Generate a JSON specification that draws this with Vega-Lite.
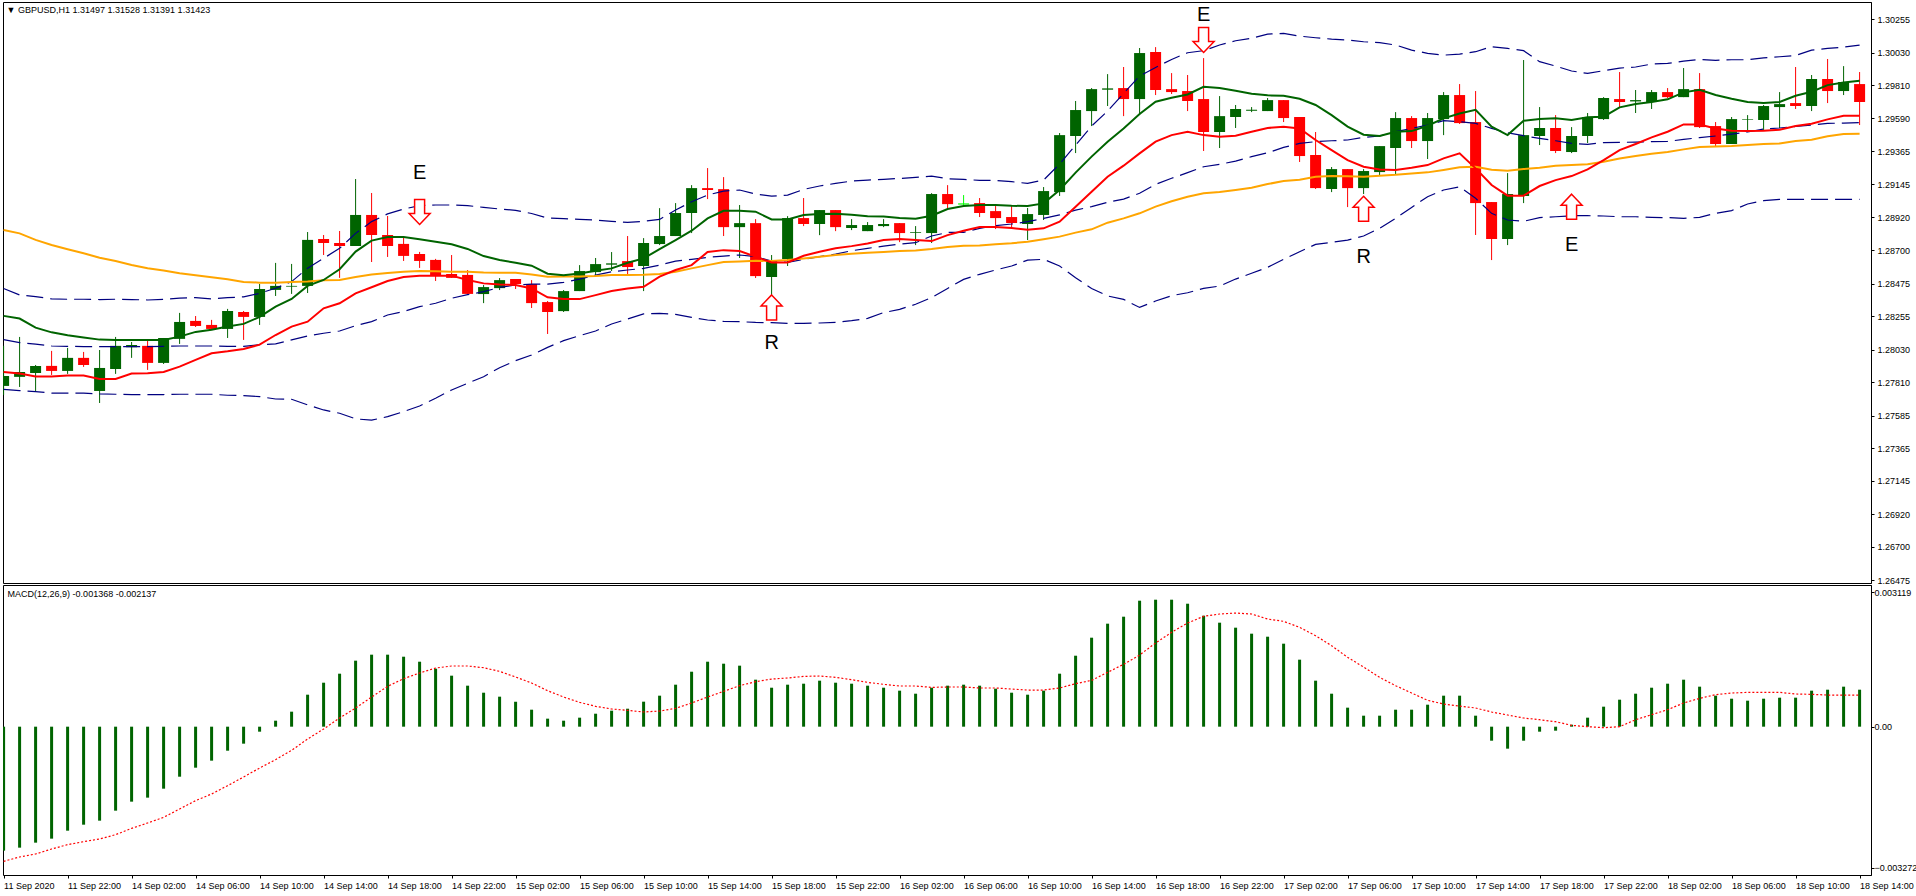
{
"$schema":"https://vega.github.io/schema/vega-lite/v6.json",
"background":"white",
"padding":{"left":0,"top":1,"right":0,"bottom":0},
"spacing":2,
"bounds":"flush",
"config":{"view":{"stroke":"#000000","strokeWidth":1},"font":"Liberation Sans","axis":{"labelFont":"Liberation Sans","labelFontSize":9,"labelColor":"#000000","domainColor":"#000000","tickColor":"#000000","tickSize":3,"labelPadding":3,"grid":false,"title":null,"labelOverlap":false,"labelBound":false}},
"datasets":{
"bars":[
{"t":"11 Sep 18:00","o":1.27785,"h":1.28055,"l":1.27724,"c":1.27852,"d":"up","g":1.28257,"r":1.27879,"a":1.28836,"u":1.28441,"m":1.28097,"b":1.27762,"macd":-0.002876,"sig":-0.003123},
{"t":"11 Sep 19:00","o":1.27846,"h":1.28115,"l":1.27778,"c":1.27879,"d":"up","g":1.28239,"r":1.27868,"a":1.28813,"u":1.28398,"m":1.28077,"b":1.27753,"macd":-0.002806,"sig":-0.003022},
{"t":"11 Sep 20:00","o":1.27872,"h":1.27926,"l":1.27747,"c":1.2792,"d":"up","g":1.28178,"r":1.27848,"a":1.28769,"u":1.28387,"m":1.28066,"b":1.27747,"macd":-0.00269,"sig":-0.002953},
{"t":"11 Sep 21:00","o":1.2792,"h":1.28021,"l":1.27859,"c":1.27886,"d":"down","g":1.28146,"r":1.27848,"a":1.28735,"u":1.28371,"m":1.28054,"b":1.27736,"macd":-0.002597,"sig":-0.002837},
{"t":"11 Sep 22:00","o":1.27886,"h":1.28041,"l":1.27866,"c":1.27974,"d":"up","g":1.28126,"r":1.27855,"a":1.28706,"u":1.28369,"m":1.28052,"b":1.27736,"macd":-0.002412,"sig":-0.002736},
{"t":"11 Sep 23:00","o":1.27974,"h":1.28014,"l":1.27913,"c":1.27926,"d":"down","g":1.28111,"r":1.27855,"a":1.28679,"u":1.28369,"m":1.2805,"b":1.27736,"macd":-0.002273,"sig":-0.002667},
{"t":"14 Sep 00:00","o":1.27751,"h":1.28027,"l":1.2767,"c":1.27906,"d":"up","g":1.28097,"r":1.27832,"a":1.28649,"u":1.28367,"m":1.2805,"b":1.27731,"macd":-0.00218,"sig":-0.002605},
{"t":"14 Sep 01:00","o":1.27899,"h":1.28115,"l":1.27866,"c":1.28055,"d":"up","g":1.28095,"r":1.27832,"a":1.28627,"u":1.28369,"m":1.2805,"b":1.27729,"macd":-0.001948,"sig":-0.002505},
{"t":"14 Sep 02:00","o":1.28045,"h":1.28081,"l":1.27974,"c":1.28061,"d":"up","g":1.28095,"r":1.27868,"a":1.286,"u":1.28367,"m":1.2805,"b":1.27727,"macd":-0.001739,"sig":-0.002358},
{"t":"14 Sep 03:00","o":1.28055,"h":1.28095,"l":1.27893,"c":1.2794,"d":"down","g":1.28095,"r":1.2787,"a":1.28578,"u":1.28364,"m":1.2805,"b":1.27727,"macd":-0.001646,"sig":-0.002234},
{"t":"14 Sep 04:00","o":1.2794,"h":1.28108,"l":1.27933,"c":1.28108,"d":"up","g":1.28095,"r":1.27879,"a":1.28562,"u":1.28369,"m":1.28052,"b":1.27727,"macd":-0.001438,"sig":-0.002103},
{"t":"14 Sep 05:00","o":1.28102,"h":1.28277,"l":1.28068,"c":1.28216,"d":"up","g":1.28117,"r":1.27915,"a":1.28544,"u":1.28376,"m":1.28054,"b":1.27729,"macd":-0.00116,"sig":-0.001909},
{"t":"14 Sep 06:00","o":1.28223,"h":1.28256,"l":1.28182,"c":1.28189,"d":"down","g":1.28149,"r":1.2796,"a":1.2853,"u":1.2838,"m":1.28054,"b":1.27729,"macd":-0.000951,"sig":-0.001716},
{"t":"14 Sep 07:00","o":1.28196,"h":1.2823,"l":1.28162,"c":1.28169,"d":"down","g":1.28164,"r":1.28005,"a":1.28517,"u":1.28371,"m":1.28054,"b":1.27729,"macd":-0.000788,"sig":-0.001561},
{"t":"14 Sep 08:00","o":1.28169,"h":1.28304,"l":1.28108,"c":1.2829,"d":"up","g":1.28185,"r":1.28018,"a":1.28504,"u":1.2838,"m":1.28052,"b":1.27722,"macd":-0.000557,"sig":-0.001368},
{"t":"14 Sep 09:00","o":1.28283,"h":1.2829,"l":1.28095,"c":1.2825,"d":"down","g":1.28203,"r":1.28034,"a":1.28486,"u":1.28385,"m":1.28052,"b":1.2772,"macd":-0.000394,"sig":-0.001167},
{"t":"14 Sep 10:00","o":1.2825,"h":1.28472,"l":1.28196,"c":1.28438,"d":"up","g":1.2825,"r":1.28063,"a":1.28481,"u":1.28409,"m":1.28063,"b":1.27713,"macd":-0.000116,"sig":-0.000959},
{"t":"14 Sep 11:00","o":1.28432,"h":1.28614,"l":1.28391,"c":1.28459,"d":"up","g":1.28319,"r":1.28128,"a":1.28481,"u":1.28443,"m":1.28068,"b":1.27697,"macd":0.000139,"sig":-0.000765},
{"t":"14 Sep 12:00","o":1.28454,"h":1.28607,"l":1.28405,"c":1.28459,"d":"up","g":1.28371,"r":1.28185,"a":1.28486,"u":1.28488,"m":1.28095,"b":1.27695,"macd":0.000348,"sig":-0.000549},
{"t":"14 Sep 13:00","o":1.28459,"h":1.28822,"l":1.28411,"c":1.28769,"d":"up","g":1.28459,"r":1.28218,"a":1.28488,"u":1.28578,"m":1.28122,"b":1.27657,"macd":0.000742,"sig":-0.000286},
{"t":"14 Sep 14:00","o":1.28775,"h":1.28802,"l":1.28667,"c":1.28748,"d":"down","g":1.28499,"r":1.28308,"a":1.28497,"u":1.28645,"m":1.2814,"b":1.27623,"macd":0.00102,"sig":-0.000054},
{"t":"14 Sep 15:00","o":1.28748,"h":1.28829,"l":1.28513,"c":1.28728,"d":"down","g":1.28571,"r":1.28342,"a":1.28499,"u":1.28712,"m":1.28155,"b":1.27601,"macd":0.001229,"sig":0.000201},
{"t":"14 Sep 16:00","o":1.28728,"h":1.29179,"l":1.28728,"c":1.28937,"d":"up","g":1.2869,"r":1.28409,"a":1.28519,"u":1.28813,"m":1.28191,"b":1.27563,"macd":0.001531,"sig":0.000433},
{"t":"14 Sep 17:00","o":1.28937,"h":1.29085,"l":1.2862,"c":1.28802,"d":"down","g":1.28764,"r":1.2845,"a":1.28535,"u":1.28892,"m":1.28218,"b":1.27554,"macd":0.00167,"sig":0.000688},
{"t":"14 Sep 18:00","o":1.28802,"h":1.2893,"l":1.28654,"c":1.28728,"d":"down","g":1.28789,"r":1.28492,"a":1.28546,"u":1.28944,"m":1.28263,"b":1.27578,"macd":0.00167,"sig":0.000935},
{"t":"14 Sep 19:00","o":1.28742,"h":1.28782,"l":1.28627,"c":1.28661,"d":"down","g":1.28789,"r":1.28519,"a":1.28555,"u":1.28977,"m":1.28286,"b":1.27612,"macd":0.001623,"sig":0.001113},
{"t":"14 Sep 20:00","o":1.28674,"h":1.28688,"l":1.2858,"c":1.28627,"d":"down","g":1.28773,"r":1.28528,"a":1.2856,"u":1.29,"m":1.28319,"b":1.2765,"macd":0.001507,"sig":0.001245},
{"t":"14 Sep 21:00","o":1.28634,"h":1.28641,"l":1.28492,"c":1.28526,"d":"down","g":1.28757,"r":1.28528,"a":1.28557,"u":1.29004,"m":1.28342,"b":1.27702,"macd":0.001345,"sig":0.00136},
{"t":"14 Sep 22:00","o":1.28539,"h":1.28667,"l":1.28513,"c":1.28513,"d":"down","g":1.28739,"r":1.28528,"a":1.28555,"u":1.29004,"m":1.28376,"b":1.27758,"macd":0.001183,"sig":0.001407},
{"t":"14 Sep 23:00","o":1.28533,"h":1.28566,"l":1.284,"c":1.28405,"d":"down","g":1.28708,"r":1.28499,"a":1.28555,"u":1.29,"m":1.284,"b":1.27803,"macd":0.000951,"sig":0.001407},
{"t":"15 Sep 00:00","o":1.28404,"h":1.28465,"l":1.28343,"c":1.28451,"d":"up","g":1.2866,"r":1.28476,"a":1.2855,"u":1.28988,"m":1.2842,"b":1.27847,"macd":0.000788,"sig":0.001368},
{"t":"15 Sep 01:00","o":1.28444,"h":1.28512,"l":1.28431,"c":1.28498,"d":"up","g":1.28633,"r":1.28469,"a":1.28548,"u":1.28977,"m":1.28449,"b":1.27908,"macd":0.000696,"sig":0.001283},
{"t":"15 Sep 02:00","o":1.28505,"h":1.28505,"l":1.28438,"c":1.28471,"d":"down","g":1.28615,"r":1.28465,"a":1.28548,"u":1.28968,"m":1.28465,"b":1.27955,"macd":0.00058,"sig":0.001152},
{"t":"15 Sep 03:00","o":1.28471,"h":1.28498,"l":1.2831,"c":1.28343,"d":"down","g":1.28595,"r":1.28442,"a":1.28536,"u":1.28947,"m":1.28471,"b":1.27993,"macd":0.000394,"sig":0.001013},
{"t":"15 Sep 04:00","o":1.2835,"h":1.28357,"l":1.28135,"c":1.28283,"d":"down","g":1.28541,"r":1.28382,"a":1.28521,"u":1.28916,"m":1.28471,"b":1.28045,"macd":0.000186,"sig":0.000835},
{"t":"15 Sep 05:00","o":1.28289,"h":1.28431,"l":1.28283,"c":1.28424,"d":"up","g":1.2853,"r":1.2837,"a":1.28523,"u":1.28912,"m":1.28483,"b":1.2809,"macd":0.000139,"sig":0.000688},
{"t":"15 Sep 06:00","o":1.28424,"h":1.28599,"l":1.28424,"c":1.28559,"d":"up","g":1.28543,"r":1.2837,"a":1.28523,"u":1.28907,"m":1.28505,"b":1.28124,"macd":0.000209,"sig":0.000564},
{"t":"15 Sep 07:00","o":1.28552,"h":1.28647,"l":1.28532,"c":1.28606,"d":"up","g":1.28561,"r":1.28397,"a":1.28525,"u":1.28903,"m":1.28532,"b":1.28155,"macd":0.000301,"sig":0.000472},
{"t":"15 Sep 08:00","o":1.28602,"h":1.28687,"l":1.28559,"c":1.28611,"d":"up","g":1.28577,"r":1.28424,"a":1.28532,"u":1.28894,"m":1.28554,"b":1.28202,"macd":0.000371,"sig":0.00041},
{"t":"15 Sep 09:00","o":1.28626,"h":1.28795,"l":1.28532,"c":1.28586,"d":"down","g":1.28615,"r":1.28442,"a":1.28532,"u":1.28887,"m":1.28566,"b":1.28236,"macd":0.000417,"sig":0.000379},
{"t":"15 Sep 10:00","o":1.28593,"h":1.28781,"l":1.28424,"c":1.28748,"d":"up","g":1.28644,"r":1.28453,"a":1.28534,"u":1.28894,"m":1.28577,"b":1.2827,"macd":0.00058,"sig":0.00034},
{"t":"15 Sep 11:00","o":1.28741,"h":1.28983,"l":1.28734,"c":1.28795,"d":"up","g":1.28707,"r":1.28521,"a":1.28539,"u":1.28907,"m":1.28599,"b":1.28274,"macd":0.000719,"sig":0.000363},
{"t":"15 Sep 12:00","o":1.28795,"h":1.29017,"l":1.28795,"c":1.2895,"d":"up","g":1.28768,"r":1.28566,"a":1.28554,"u":1.2897,"m":1.28626,"b":1.28267,"macd":0.000974,"sig":0.000425},
{"t":"15 Sep 13:00","o":1.2895,"h":1.29138,"l":1.28815,"c":1.29118,"d":"up","g":1.28831,"r":1.28599,"a":1.28577,"u":1.29026,"m":1.28638,"b":1.28247,"macd":0.001275,"sig":0.000549},
{"t":"15 Sep 14:00","o":1.29118,"h":1.29253,"l":1.29044,"c":1.29105,"d":"down","g":1.28914,"r":1.28687,"a":1.28599,"u":1.29071,"m":1.28651,"b":1.28229,"macd":0.001507,"sig":0.000688},
{"t":"15 Sep 15:00","o":1.29111,"h":1.29192,"l":1.28795,"c":1.28855,"d":"down","g":1.28965,"r":1.287,"a":1.2862,"u":1.29098,"m":1.2866,"b":1.2822,"macd":0.001461,"sig":0.000819},
{"t":"15 Sep 16:00","o":1.28855,"h":1.29004,"l":1.28647,"c":1.28882,"d":"up","g":1.28965,"r":1.28694,"a":1.28624,"u":1.29105,"m":1.28667,"b":1.28218,"macd":0.001415,"sig":0.000951},
{"t":"15 Sep 17:00","o":1.28882,"h":1.28909,"l":1.28512,"c":1.28525,"d":"down","g":1.28959,"r":1.28656,"a":1.28629,"u":1.29078,"m":1.28656,"b":1.28213,"macd":0.00109,"sig":0.001044},
{"t":"15 Sep 18:00","o":1.28519,"h":1.28667,"l":1.28397,"c":1.28626,"d":"up","g":1.28907,"r":1.28617,"a":1.28626,"u":1.29064,"m":1.28626,"b":1.28211,"macd":0.000904,"sig":0.001105},
{"t":"15 Sep 19:00","o":1.2864,"h":1.28929,"l":1.28593,"c":1.28916,"d":"up","g":1.28907,"r":1.28617,"a":1.28633,"u":1.29071,"m":1.28617,"b":1.28207,"macd":0.000974,"sig":0.001129},
{"t":"15 Sep 20:00","o":1.28916,"h":1.29051,"l":1.28862,"c":1.28876,"d":"down","g":1.28936,"r":1.28662,"a":1.28644,"u":1.29109,"m":1.28638,"b":1.28207,"macd":0.000997,"sig":0.001167},
{"t":"15 Sep 21:00","o":1.28876,"h":1.2897,"l":1.28801,"c":1.2897,"d":"up","g":1.28943,"r":1.28689,"a":1.28656,"u":1.29132,"m":1.28656,"b":1.28209,"macd":0.001067,"sig":0.001175},
{"t":"15 Sep 22:00","o":1.2897,"h":1.2897,"l":1.28828,"c":1.28855,"d":"down","g":1.28945,"r":1.28712,"a":1.28667,"u":1.2915,"m":1.28673,"b":1.28213,"macd":0.00102,"sig":0.001144},
{"t":"15 Sep 23:00","o":1.28849,"h":1.28909,"l":1.28835,"c":1.28869,"d":"up","g":1.28938,"r":1.28727,"a":1.28676,"u":1.29165,"m":1.28696,"b":1.28225,"macd":0.000997,"sig":0.00109},
{"t":"16 Sep 00:00","o":1.28828,"h":1.28889,"l":1.28828,"c":1.28869,"d":"up","g":1.28929,"r":1.28745,"a":1.28682,"u":1.29172,"m":1.28712,"b":1.2824,"macd":0.000951,"sig":0.001028},
{"t":"16 Sep 01:00","o":1.28862,"h":1.28909,"l":1.28855,"c":1.28876,"d":"up","g":1.28927,"r":1.28768,"a":1.28687,"u":1.29177,"m":1.28727,"b":1.28279,"macd":0.000904,"sig":0.000982},
{"t":"16 Sep 02:00","o":1.28882,"h":1.28882,"l":1.28754,"c":1.28815,"d":"down","g":1.28916,"r":1.28775,"a":1.28694,"u":1.29183,"m":1.28741,"b":1.28301,"macd":0.000835,"sig":0.000943},
{"t":"16 Sep 03:00","o":1.28817,"h":1.28862,"l":1.28734,"c":1.28822,"d":"up","g":1.28912,"r":1.28768,"a":1.28698,"u":1.2919,"m":1.2875,"b":1.28335,"macd":0.000765,"sig":0.000943},
{"t":"16 Sep 04:00","o":1.28815,"h":1.29084,"l":1.28748,"c":1.29078,"d":"up","g":1.28932,"r":1.28761,"a":1.28707,"u":1.29199,"m":1.28795,"b":1.2838,"macd":0.000904,"sig":0.000912},
{"t":"16 Sep 05:00","o":1.29078,"h":1.29138,"l":1.28977,"c":1.2901,"d":"down","g":1.28977,"r":1.28801,"a":1.28721,"u":1.29181,"m":1.28819,"b":1.28442,"macd":0.000951,"sig":0.00092},
{"t":"16 Sep 06:00","o":1.29007,"h":1.29071,"l":1.28993,"c":1.29015,"d":"flat","g":1.28997,"r":1.28831,"a":1.2873,"u":1.29177,"m":1.2882,"b":1.28503,"macd":0.000974,"sig":0.00092},
{"t":"16 Sep 07:00","o":1.29017,"h":1.29051,"l":1.28923,"c":1.2895,"d":"down","g":1.29004,"r":1.28856,"a":1.28732,"u":1.2917,"m":1.28847,"b":1.28537,"macd":0.000951,"sig":0.000897},
{"t":"16 Sep 08:00","o":1.28963,"h":1.28997,"l":1.28842,"c":1.28916,"d":"down","g":1.29004,"r":1.28856,"a":1.28739,"u":1.2917,"m":1.28865,"b":1.28566,"macd":0.000881,"sig":0.000897},
{"t":"16 Sep 09:00","o":1.28923,"h":1.29004,"l":1.28849,"c":1.28883,"d":"down","g":1.28999,"r":1.28849,"a":1.28746,"u":1.29161,"m":1.28876,"b":1.28593,"macd":0.000788,"sig":0.000873},
{"t":"16 Sep 10:00","o":1.28876,"h":1.28984,"l":1.28768,"c":1.28943,"d":"up","g":1.28997,"r":1.28838,"a":1.28757,"u":1.2915,"m":1.28892,"b":1.28633,"macd":0.000742,"sig":0.00085},
{"t":"16 Sep 11:00","o":1.28937,"h":1.29125,"l":1.28903,"c":1.29098,"d":"up","g":1.29015,"r":1.28847,"a":1.28773,"u":1.29172,"m":1.28914,"b":1.28638,"macd":0.000835,"sig":0.00085},
{"t":"16 Sep 12:00","o":1.29091,"h":1.29489,"l":1.29065,"c":1.29475,"d":"up","g":1.29105,"r":1.28892,"a":1.28791,"u":1.2928,"m":1.28937,"b":1.28593,"macd":0.001229,"sig":0.000897},
{"t":"16 Sep 13:00","o":1.29469,"h":1.29705,"l":1.29354,"c":1.29644,"d":"up","g":1.29222,"r":1.28993,"a":1.28818,"u":1.29408,"m":1.2897,"b":1.28514,"macd":0.001646,"sig":0.000997},
{"t":"16 Sep 14:00","o":1.29637,"h":1.29792,"l":1.29536,"c":1.29785,"d":"up","g":1.2933,"r":1.29094,"a":1.2884,"u":1.29536,"m":1.28993,"b":1.28442,"macd":0.002064,"sig":0.001074},
{"t":"16 Sep 15:00","o":1.29781,"h":1.29886,"l":1.29671,"c":1.2979,"d":"up","g":1.29431,"r":1.29195,"a":1.28885,"u":1.29637,"m":1.29022,"b":1.28391,"macd":0.002389,"sig":0.00126},
{"t":"16 Sep 16:00","o":1.29792,"h":1.29934,"l":1.29603,"c":1.29718,"d":"down","g":1.2952,"r":1.29269,"a":1.28914,"u":1.29756,"m":1.29044,"b":1.28368,"macd":0.002551,"sig":0.001446},
{"t":"16 Sep 17:00","o":1.29718,"h":1.30062,"l":1.2961,"c":1.30028,"d":"up","g":1.29617,"r":1.29352,"a":1.28948,"u":1.29873,"m":1.29083,"b":1.28314,"macd":0.002922,"sig":0.001662},
{"t":"16 Sep 18:00","o":1.30035,"h":1.30068,"l":1.29745,"c":1.29779,"d":"down","g":1.297,"r":1.29431,"a":1.28993,"u":1.29931,"m":1.29143,"b":1.28357,"macd":0.002945,"sig":0.00194},
{"t":"16 Sep 19:00","o":1.29785,"h":1.29893,"l":1.29752,"c":1.29765,"d":"down","g":1.29727,"r":1.29475,"a":1.29029,"u":1.29985,"m":1.29184,"b":1.28393,"macd":0.002945,"sig":0.002188},
{"t":"16 Sep 20:00","o":1.29772,"h":1.2988,"l":1.29637,"c":1.29705,"d":"down","g":1.29749,"r":1.29498,"a":1.2906,"u":1.3003,"m":1.29222,"b":1.28413,"macd":0.002852,"sig":0.002404},
{"t":"16 Sep 21:00","o":1.29718,"h":1.29994,"l":1.29368,"c":1.29496,"d":"down","g":1.29801,"r":1.29475,"a":1.29083,"u":1.30044,"m":1.29262,"b":1.28442,"macd":0.002574,"sig":0.002559},
{"t":"16 Sep 22:00","o":1.29496,"h":1.29738,"l":1.29388,"c":1.29603,"d":"up","g":1.29792,"r":1.29464,"a":1.29091,"u":1.30082,"m":1.29278,"b":1.28458,"macd":0.002412,"sig":0.002613},
{"t":"16 Sep 23:00","o":1.29597,"h":1.29678,"l":1.29523,"c":1.29651,"d":"up","g":1.29774,"r":1.29471,"a":1.29105,"u":1.30111,"m":1.293,"b":1.28505,"macd":0.002296,"sig":0.002636},
{"t":"17 Sep 00:00","o":1.29639,"h":1.29664,"l":1.2963,"c":1.29646,"d":"up","g":1.29754,"r":1.29498,"a":1.29121,"u":1.30127,"m":1.2933,"b":1.28544,"macd":0.002157,"sig":0.002613},
{"t":"17 Sep 01:00","o":1.29637,"h":1.29725,"l":1.29637,"c":1.29711,"d":"up","g":1.29743,"r":1.29523,"a":1.29145,"u":1.30156,"m":1.29356,"b":1.28584,"macd":0.002087,"sig":0.002497},
{"t":"17 Sep 02:00","o":1.29711,"h":1.29711,"l":1.29563,"c":1.2959,"d":"down","g":1.2974,"r":1.29532,"a":1.29166,"u":1.3016,"m":1.29392,"b":1.28638,"macd":0.001925,"sig":0.002443},
{"t":"17 Sep 03:00","o":1.29597,"h":1.29597,"l":1.29294,"c":1.29334,"d":"down","g":1.2972,"r":1.2952,"a":1.29175,"u":1.30142,"m":1.29419,"b":1.28689,"macd":0.001554,"sig":0.002304},
{"t":"17 Sep 04:00","o":1.29341,"h":1.29496,"l":1.29112,"c":1.29118,"d":"down","g":1.29678,"r":1.29442,"a":1.29195,"u":1.30131,"m":1.29431,"b":1.28739,"macd":0.001067,"sig":0.00211},
{"t":"17 Sep 05:00","o":1.29112,"h":1.2926,"l":1.29091,"c":1.29246,"d":"up","g":1.2961,"r":1.29374,"a":1.29199,"u":1.30122,"m":1.29437,"b":1.28752,"macd":0.000765,"sig":0.001878},
{"t":"17 Sep 06:00","o":1.29246,"h":1.29246,"l":1.2899,"c":1.29118,"d":"down","g":1.29532,"r":1.29307,"a":1.29197,"u":1.30116,"m":1.29442,"b":1.28768,"macd":0.000441,"sig":0.001608},
{"t":"17 Sep 07:00","o":1.29118,"h":1.29246,"l":1.29078,"c":1.29233,"d":"up","g":1.29478,"r":1.29262,"a":1.29195,"u":1.30104,"m":1.2946,"b":1.28795,"macd":0.000255,"sig":0.001384},
{"t":"17 Sep 08:00","o":1.29226,"h":1.29401,"l":1.29206,"c":1.29401,"d":"up","g":1.29469,"r":1.29244,"a":1.29202,"u":1.30098,"m":1.29469,"b":1.28847,"macd":0.000255,"sig":0.001144},
{"t":"17 Sep 09:00","o":1.29388,"h":1.2963,"l":1.29213,"c":1.2959,"d":"up","g":1.29498,"r":1.2924,"a":1.29208,"u":1.30082,"m":1.29498,"b":1.28914,"macd":0.000394,"sig":0.000951},
{"t":"17 Sep 10:00","o":1.2959,"h":1.29603,"l":1.29388,"c":1.29435,"d":"down","g":1.29502,"r":1.29255,"a":1.29217,"u":1.30048,"m":1.2952,"b":1.28988,"macd":0.000394,"sig":0.000781},
{"t":"17 Sep 11:00","o":1.29435,"h":1.29624,"l":1.29314,"c":1.2959,"d":"up","g":1.29538,"r":1.29273,"a":1.29224,"u":1.30026,"m":1.29543,"b":1.2906,"macd":0.00051,"sig":0.000611},
{"t":"17 Sep 12:00","o":1.29583,"h":1.29765,"l":1.29475,"c":1.29745,"d":"up","g":1.29588,"r":1.29318,"a":1.2924,"u":1.30014,"m":1.29572,"b":1.29105,"macd":0.000719,"sig":0.000526},
{"t":"17 Sep 13:00","o":1.29745,"h":1.29819,"l":1.2955,"c":1.29556,"d":"down","g":1.29621,"r":1.29352,"a":1.29258,"u":1.30021,"m":1.29565,"b":1.29127,"macd":0.000719,"sig":0.000479},
{"t":"17 Sep 14:00","o":1.29563,"h":1.29772,"l":1.28802,"c":1.29017,"d":"down","g":1.29646,"r":1.29251,"a":1.29262,"u":1.30037,"m":1.29554,"b":1.29049,"macd":0.000255,"sig":0.000433},
{"t":"17 Sep 15:00","o":1.29024,"h":1.29024,"l":1.28633,"c":1.28775,"d":"down","g":1.29532,"r":1.29139,"a":1.29242,"u":1.30071,"m":1.2952,"b":1.28948,"macd":-0.000325,"sig":0.00034},
{"t":"17 Sep 16:00","o":1.28775,"h":1.29219,"l":1.28734,"c":1.29078,"d":"up","g":1.29475,"r":1.29067,"a":1.29235,"u":1.30059,"m":1.29491,"b":1.28903,"macd":-0.00051,"sig":0.000271},
{"t":"17 Sep 17:00","o":1.29065,"h":1.29981,"l":1.29017,"c":1.29475,"d":"up","g":1.29572,"r":1.29067,"a":1.29246,"u":1.30044,"m":1.29471,"b":1.28894,"macd":-0.000325,"sig":0.000201},
{"t":"17 Sep 18:00","o":1.29469,"h":1.29664,"l":1.29408,"c":1.29523,"d":"up","g":1.29583,"r":1.29132,"a":1.29255,"u":1.2997,"m":1.29453,"b":1.28919,"macd":-0.000116,"sig":0.000162},
{"t":"17 Sep 19:00","o":1.29523,"h":1.2961,"l":1.29354,"c":1.29368,"d":"down","g":1.29588,"r":1.29172,"a":1.29269,"u":1.2994,"m":1.29437,"b":1.28925,"macd":-0.000093,"sig":0.000116},
{"t":"17 Sep 20:00","o":1.29361,"h":1.29529,"l":1.29354,"c":1.29469,"d":"up","g":1.29577,"r":1.29199,"a":1.29273,"u":1.29907,"m":1.29419,"b":1.28932,"macd":0.000046,"sig":0.000031},
{"t":"17 Sep 21:00","o":1.29469,"h":1.29624,"l":1.29422,"c":1.29597,"d":"up","g":1.29595,"r":1.29244,"a":1.29278,"u":1.29891,"m":1.29413,"b":1.28932,"macd":0.000209,"sig":0},
{"t":"17 Sep 22:00","o":1.29583,"h":1.29731,"l":1.29577,"c":1.29725,"d":"up","g":1.29599,"r":1.29307,"a":1.29296,"u":1.29909,"m":1.29424,"b":1.2893,"macd":0.000464,"sig":-0.000023},
{"t":"17 Sep 23:00","o":1.29718,"h":1.299,"l":1.29664,"c":1.29698,"d":"down","g":1.29662,"r":1.29374,"a":1.29318,"u":1.29927,"m":1.29426,"b":1.28925,"macd":0.000626,"sig":0},
{"t":"18 Sep 00:00","o":1.29702,"h":1.29779,"l":1.29624,"c":1.29711,"d":"up","g":1.29684,"r":1.29415,"a":1.29334,"u":1.29934,"m":1.29428,"b":1.28925,"macd":0.000765,"sig":0.000162},
{"t":"18 Sep 01:00","o":1.29698,"h":1.29779,"l":1.29651,"c":1.29765,"d":"up","g":1.29698,"r":1.2946,"a":1.2935,"u":1.29954,"m":1.29431,"b":1.28921,"macd":0.000904,"sig":0.000278},
{"t":"18 Sep 02:00","o":1.29765,"h":1.29792,"l":1.29725,"c":1.29731,"d":"down","g":1.29716,"r":1.29498,"a":1.29361,"u":1.29958,"m":1.29433,"b":1.28919,"macd":0.000997,"sig":0.000394},
{"t":"18 Sep 03:00","o":1.29731,"h":1.29927,"l":1.29731,"c":1.29785,"d":"up","g":1.29763,"r":1.29547,"a":1.29379,"u":1.29974,"m":1.29446,"b":1.28914,"macd":0.00109,"sig":0.000549},
{"t":"18 Sep 04:00","o":1.29785,"h":1.29893,"l":1.29523,"c":1.29529,"d":"down","g":1.29781,"r":1.29547,"a":1.29395,"u":1.29985,"m":1.29458,"b":1.28921,"macd":0.000928,"sig":0.000657},
{"t":"18 Sep 05:00","o":1.29536,"h":1.29563,"l":1.29401,"c":1.29415,"d":"down","g":1.29745,"r":1.2952,"a":1.29399,"u":1.29979,"m":1.29469,"b":1.28948,"macd":0.000719,"sig":0.000742},
{"t":"18 Sep 06:00","o":1.29415,"h":1.29597,"l":1.29415,"c":1.29583,"d":"up","g":1.2972,"r":1.29505,"a":1.29401,"u":1.29983,"m":1.29482,"b":1.28966,"macd":0.000649,"sig":0.000781},
{"t":"18 Sep 07:00","o":1.29579,"h":1.2961,"l":1.29509,"c":1.29583,"d":"up","g":1.29698,"r":1.29502,"a":1.29408,"u":1.29983,"m":1.29496,"b":1.29011,"macd":0.000603,"sig":0.000796},
{"t":"18 Sep 08:00","o":1.29577,"h":1.29678,"l":1.29509,"c":1.29671,"d":"up","g":1.29691,"r":1.29505,"a":1.29415,"u":1.29996,"m":1.29516,"b":1.29033,"macd":0.000649,"sig":0.000796},
{"t":"18 Sep 09:00","o":1.29664,"h":1.29765,"l":1.29523,"c":1.29684,"d":"up","g":1.29698,"r":1.29511,"a":1.29419,"u":1.30003,"m":1.29523,"b":1.29042,"macd":0.000673,"sig":0.000796},
{"t":"18 Sep 10:00","o":1.29691,"h":1.29934,"l":1.29651,"c":1.29671,"d":"down","g":1.2974,"r":1.29536,"a":1.29435,"u":1.30012,"m":1.29534,"b":1.29042,"macd":0.000673,"sig":0.000758},
{"t":"18 Sep 11:00","o":1.29671,"h":1.2988,"l":1.29637,"c":1.29853,"d":"up","g":1.29767,"r":1.29552,"a":1.29444,"u":1.30048,"m":1.29543,"b":1.29042,"macd":0.000835,"sig":0.00075},
{"t":"18 Sep 12:00","o":1.29853,"h":1.29988,"l":1.29691,"c":1.29772,"d":"down","g":1.29812,"r":1.29581,"a":1.29467,"u":1.30059,"m":1.29554,"b":1.29042,"macd":0.000858,"sig":0.000734},
{"t":"18 Sep 13:00","o":1.29772,"h":1.2994,"l":1.29745,"c":1.29833,"d":"up","g":1.2983,"r":1.29606,"a":1.29482,"u":1.30068,"m":1.29556,"b":1.29042,"macd":0.000928,"sig":0.000734},
{"t":"18 Sep 14:00","o":1.29819,"h":1.299,"l":1.29543,"c":1.29698,"d":"down","g":1.29842,"r":1.29606,"a":1.29484,"u":1.30082,"m":1.29559,"b":1.29042,"macd":0.000858,"sig":0.000734}
],
"arrows":[
{"t":"14 Sep 20:00","p":1.28957,"dir":"down"},
{"t":"15 Sep 18:00","p":1.28314,"dir":"up"},
{"t":"16 Sep 21:00","p":1.30116,"dir":"down"},
{"t":"17 Sep 07:00","p":1.28979,"dir":"up"},
{"t":"17 Sep 20:00","p":1.28993,"dir":"up"}
],
"letters":[
{"t":"14 Sep 20:00","p":1.29222,"label":"E"},
{"t":"15 Sep 18:00","p":1.28072,"label":"R"},
{"t":"16 Sep 21:00","p":1.30284,"label":"E"},
{"t":"17 Sep 07:00","p":1.28651,"label":"R"},
{"t":"17 Sep 20:00","p":1.28734,"label":"E"}
],
"priceHeader":[{"t":"11 Sep 18:00","p":1.30318,"label":"▼  GBPUSD,H1  1.31497 1.31528 1.31391 1.31423"}],
"macdHeader":[{"t":"11 Sep 18:00","v":0.003077,"label":"MACD(12,26,9) -0.001368 -0.002137"}]
},
"vconcat":[
{
"width":1868,
"height":581,
"encoding":{
"x":{"field":"t","type":"ordinal","sort":null,"scale":{"type":"point","range":[0.6,1856.6],"padding":0},"axis":null}
},
"layer":[
{"data":{"name":"bars"},"mark":{"type":"rule","strokeWidth":1,"clip":true},"encoding":{
"y":{"field":"l","type":"quantitative","scale":{"domain":[1.26457,1.30372],"nice":false,"zero":false},
"axis":{"orient":"right","values":[1.30255,1.3003,1.2981,1.2959,1.29365,1.29145,1.2892,1.287,1.28475,1.28255,1.2803,1.2781,1.27585,1.27365,1.27145,1.2692,1.267,1.26475],"tickCount":20,"format":".5f"}},
"y2":{"field":"h"},
"color":{"field":"d","type":"nominal","scale":{"domain":["up","down","flat"],"range":["#006400","#ff0000","#00ff00"]},"legend":null}}},
{"data":{"name":"bars"},"mark":{"type":"bar","size":11,"clip":true},"encoding":{
"y":{"field":"o","type":"quantitative"},
"y2":{"field":"c"},
"color":{"field":"d","type":"nominal","legend":null}}},
{"data":{"name":"bars"},"mark":{"type":"line","color":"#000080","strokeWidth":1.2,"strokeDash":[17,7]},"encoding":{"y":{"field":"u","type":"quantitative"}}},
{"data":{"name":"bars"},"mark":{"type":"line","color":"#000080","strokeWidth":1.2,"strokeDash":[17,7]},"encoding":{"y":{"field":"m","type":"quantitative"}}},
{"data":{"name":"bars"},"mark":{"type":"line","color":"#000080","strokeWidth":1.2,"strokeDash":[17,7]},"encoding":{"y":{"field":"b","type":"quantitative"}}},
{"data":{"name":"bars"},"mark":{"type":"line","color":"#ffa500","strokeWidth":2,"clip":true},"encoding":{"y":{"field":"a","type":"quantitative"}}},
{"data":{"name":"bars"},"mark":{"type":"line","color":"#ff0000","strokeWidth":2,"clip":true},"encoding":{"y":{"field":"r","type":"quantitative"}}},
{"data":{"name":"bars"},"mark":{"type":"line","color":"#006400","strokeWidth":2,"clip":true},"encoding":{"y":{"field":"g","type":"quantitative"}}},
{"data":{"name":"arrows"},"mark":{"type":"point","filled":true,"size":625,"fill":"#ffffff","stroke":"#ff0000","strokeWidth":1.5,"opacity":1},"encoding":{
"y":{"field":"p","type":"quantitative"},
"shape":{"field":"dir","type":"nominal","scale":{"domain":["up","down"],"range":["M0,-1L0.84,-0.12L0.4,-0.12L0.4,1L-0.4,1L-0.4,-0.12L-0.84,-0.12Z","M0,1L0.84,0.12L0.4,0.12L0.4,-1L-0.4,-1L-0.4,0.12L-0.84,0.12Z"]},"legend":null}}},
{"data":{"name":"letters"},"mark":{"type":"text","font":"Liberation Sans","fontSize":20,"color":"#000000","baseline":"middle"},"encoding":{
"y":{"field":"p","type":"quantitative"},
"text":{"field":"label"}}},
{"data":{"name":"priceHeader"},"mark":{"type":"text","font":"Liberation Sans","fontSize":9,"color":"#000000","align":"left","baseline":"middle","dx":3},"encoding":{
"y":{"field":"p","type":"quantitative"},
"text":{"field":"label"}}}
]
},
{
"width":1868,
"height":290,
"encoding":{
"x":{"field":"t","type":"ordinal","sort":null,"scale":{"type":"point","range":[0.6,1856.6],"padding":0},
"axis":{"values":["11 Sep 18:00","11 Sep 22:00","14 Sep 02:00","14 Sep 06:00","14 Sep 10:00","14 Sep 14:00","14 Sep 18:00","14 Sep 22:00","15 Sep 02:00","15 Sep 06:00","15 Sep 10:00","15 Sep 14:00","15 Sep 18:00","15 Sep 22:00","16 Sep 02:00","16 Sep 06:00","16 Sep 10:00","16 Sep 14:00","16 Sep 18:00","16 Sep 22:00","17 Sep 02:00","17 Sep 06:00","17 Sep 10:00","17 Sep 14:00","17 Sep 18:00","17 Sep 22:00","18 Sep 02:00","18 Sep 06:00","18 Sep 10:00","18 Sep 14:00"],"labelExpr":"datum.value == '11 Sep 18:00' ? '11 Sep 2020' : datum.value","labelAngle":0,"labelAlign":"left","labelPadding":3}}
},
"layer":[
{"data":{"name":"bars"},"mark":{"type":"bar","size":3,"color":"#006400","clip":true},"encoding":{
"y":{"field":"macd","type":"quantitative","scale":{"domain":[-0.00344,0.003286],"nice":false,"zero":false},
"axis":{"orient":"right","values":[0.003119,0,-0.003272],"labelExpr":"datum.value == 0 ? '0.00' : format(datum.value, '.6f')","labelPadding":0}},
"y2":{"datum":0}}},
{"data":{"name":"bars"},"mark":{"type":"line","color":"#ff0000","strokeWidth":1.2,"strokeDash":[2,2]},"encoding":{"y":{"field":"sig","type":"quantitative"}}},
{"data":{"name":"macdHeader"},"mark":{"type":"text","font":"Liberation Sans","fontSize":9,"color":"#000000","align":"left","baseline":"middle","dx":4},"encoding":{
"y":{"field":"v","type":"quantitative"},
"text":{"field":"label"}}}
]
}
]
}
